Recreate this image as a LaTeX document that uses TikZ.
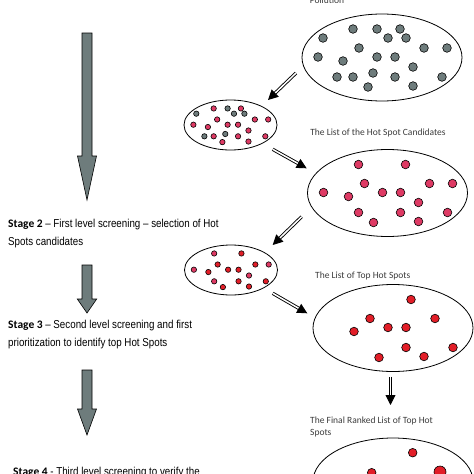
\documentclass[tikz,border=0pt]{standalone}
\usepackage{fontspec}
\setmainfont{Carlito}
\newfontfamily\narrowfont{Liberation Sans}[FakeStretch=0.85]
\usetikzlibrary{shapes.geometric,arrows.meta}

\definecolor{popgray}{RGB}{110,124,124}
\definecolor{candpink}{RGB}{222,58,100}
\definecolor{hotred}{RGB}{226,30,40}
\definecolor{titlegray}{RGB}{60,60,60}

\tikzset{
  pool/.style={ellipse, draw, line width=0.8pt, inner sep=0pt, minimum width=160pt, minimum height=87pt},
  smallpool/.style={pool, minimum width=93pt, minimum height=50pt},
  dblarrow/.style={draw=black, line width=0.9pt, double=white, double distance=1.5pt, -{Triangle[length=10pt,width=10pt]}},
  stagefill/.style={draw=black, line width=0.6pt, fill=popgray},
  stagetext/.style={anchor=base west, align=left, inner sep=0pt, font=\fontsize{11.5}{18}\selectfont},
  pooltitle/.style={inner sep=0pt, text=titlegray, font=\fontsize{9.5}{12}\selectfont}
}

% offsets of the spots from the pool centre, and the last level each one reaches
\def\spotlist{-59/-19.5/0,-29/-28.5/1,-5/-28.5/0,18/-28.5/2,6/-19.5/0,24/-19.5/0,-23/-9.5/2,42/-9.5/2,65/-9.5/1,-64/-0.5/1,-39/3.5/2,-5/-0.5/2,13/-0.5/2,31/9.5/1,-45/19.5/0,-29/19.5/1,-9/15.5/0,13/19.5/2,60/19.5/2,-14/29.5/2,31/28.5/2}

\newcommand{\spots}[8]{%
  \foreach \dx/\dy/\lv in \spotlist {
    \ifnum\lv<#5\relax\else
      \ifcase\lv\def\spotcol{#6}\or\def\spotcol{#7}\else\def\spotcol{#8}\fi
      \filldraw[fill=\spotcol, draw=black, line width=0.6pt] ({#1+#3*\dx},{#2+#3*\dy}) circle[radius=#4];
    \fi
  }}

\newcommand{\stagearrow}[5]{%
  \draw[stagefill] (#1-5,#2) -- (#1+5,#2) -- (#1+5,#3) -- (#1+#5,#3) -- (#1,#4) -- (#1-#5,#3) -- (#1-5,#3) -- cycle;}

\begin{document}
\begin{tikzpicture}[x=1pt,y=-1pt]
\useasboundingbox (0,0) rectangle (474,474);
\clip (0,0) rectangle (474,474);

\stagearrow{87}{33}{156}{200}{9.5}
\stagearrow{87}{265}{299}{313}{9.7}
\stagearrow{87}{370}{409}{435}{9.5}

\node[stagetext] (stagetwo) at (8,245) {\textbf{Stage 2} {\narrowfont – First level screening – selection of Hot}\\{\narrowfont Spots candidates}};
\node[stagetext] (stagethree) at (8,346) {\textbf{Stage 3} {\narrowfont – Second level screening and first}\\{\narrowfont prioritization to identify top Hot Spots}};
\node[stagetext] (stagefour) at (13,475) {\textbf{Stage 4} {\narrowfont - Third level screening to verify the}};

\node[pooltitle, anchor=base] (poptitle) at (327,3) {Pollution};
\node[pooltitle, anchor=base] (candtitle) at (378,135) {The List of the Hot Spot Candidates};
\node[pooltitle, anchor=base west] (toptitle) at (315,278) {The List of Top Hot Spots};
\node[pooltitle, anchor=base west, align=left] (finaltitle) at (310,435) {The Final Ranked List of Top Hot\\Spots};

\node[pool] (pop) at (382,57.5) {};
\spots{382}{57.5}{1}{4.3}{0}{popgray}{popgray}{popgray}
\node[smallpool] (screen) at (230.5,125) {};
\spots{230.5}{125}{0.58}{2.7}{0}{popgray}{candpink}{candpink}
\node[pool] (cand) at (387.5,193) {};
\spots{387.5}{193}{1}{4.3}{1}{candpink}{candpink}{candpink}
\node[smallpool] (rank) at (231,270) {};
\spots{231}{270}{0.58}{2.7}{1}{candpink}{candpink}{hotred}
\node[pool] (top) at (393,328) {};
\spots{393}{328}{1}{4.3}{2}{hotred}{hotred}{hotred}
\node[pool] (final) at (393,481.5) {};
\foreach \sx/\sy/\sr in {412.7/452.7/4.3, 371.7/472.7/4.3, 440/472/6}
  \filldraw[fill=hotred, draw=black, line width=0.6pt] (\sx,\sy) circle[radius=\sr];

\coordinate (popout) at (296,73);
\coordinate (screenin) at (268,100);
\coordinate (screenout) at (272.7,149.3);
\coordinate (candin) at (306.7,168.3);
\coordinate (candout) at (301.7,216.7);
\coordinate (rankin) at (272.7,245);
\coordinate (rankout) at (272.7,293.3);
\coordinate (topin) at (307.3,313.3);
\coordinate (topout) at (390.5,376.7);
\coordinate (finalin) at (390.5,405);
\draw[dblarrow] (popout) -- (screenin);
\draw[dblarrow] (screenout) -- (candin);
\draw[dblarrow] (candout) -- (rankin);
\draw[dblarrow] (rankout) -- (topin);
\draw[dblarrow] (topout) -- (finalin);
\end{tikzpicture}
\end{document}
